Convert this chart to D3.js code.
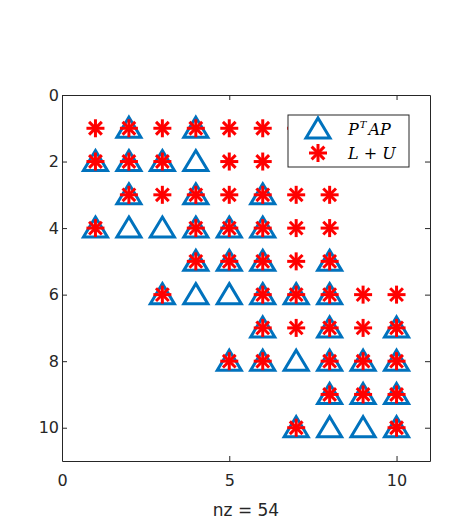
<!DOCTYPE html>
<html><head><meta charset="utf-8">
<script src="https://cdn.jsdelivr.net/npm/d3@7"></script>
<style>body{margin:0;background:#fff}text{font-family:"DejaVu Sans",sans-serif}</style>
</head><body><svg width="474" height="525"></svg>
<script>
// nonzeros per row, [row, cols]
var triRows = [[1,[2,4]],[2,[1,2,3,4]],[3,[2,4,6]],[4,[1,2,3,4,5,6]],[5,[4,5,6,8]],
  [6,[3,4,5,6,7,8]],[7,[6,8,10]],[8,[5,6,7,8,9,10]],[9,[8,9,10]],[10,[7,8,9,10]]];
var starRows = [[1,[1,2,3,4,5,6,7,8,9,10]],[2,[1,2,3,5,6]],[3,[2,3,4,5,6,7,8]],[4,[1,4,5,6,7,8]],
  [5,[4,5,6,7,8]],[6,[3,6,7,8,9,10]],[7,[6,7,8,9,10]],[8,[5,6,8,9,10]],[9,[8,9,10]],[10,[7,10]]];
var xTicks = [0,5,10], yTicks = [0,2,4,6,8,10];
var nz = 54;

function flat(rows){ var out=[]; rows.forEach(r => r[1].forEach(c => out.push({r:r[0], c:c}))); return out; }
var tri = flat(triRows), star = flat(starRows);

var svg = d3.select('svg');
var margin = {top: 95, left: 62, right: 44, bottom: 64};
var x = d3.scaleLinear().domain([0,11]).range([margin.left, 474 - margin.right]);
var y = d3.scaleLinear().domain([0,11]).range([margin.top, 525 - margin.bottom]);

var blue = '#0072BD', red = '#FF0000';
var triPath = 'M0,-11L12,9L-12,9Z';
function starG(g){
  [0,45,90,135].forEach(a => g.append('line').attr('x1',0).attr('y1',-9).attr('x2',0).attr('y2',9)
    .attr('transform','rotate(' + a + ')').attr('stroke',red).attr('stroke-width',3));
}

svg.selectAll('path.tri').data(tri).enter().append('path').attr('class','tri')
  .attr('d', triPath).attr('transform', d => 'translate(' + [x(d.c), y(d.r)] + ')')
  .attr('fill','none').attr('stroke',blue).attr('stroke-width',3);
svg.selectAll('g.star').data(star).enter().append('g').attr('class','star')
  .attr('transform', d => 'translate(' + [x(d.c), y(d.r)] + ')').each(function(){ starG(d3.select(this)); });

// axes
var xA = d3.axisBottom(x).tickValues(xTicks).tickSize(-5).tickSizeOuter(0);
var xT = d3.axisTop(x).tickValues(xTicks).tickSize(-5).tickSizeOuter(0).tickFormat('');
var yA = d3.axisLeft(y).tickValues(yTicks).tickSize(-5).tickSizeOuter(0);
var yR = d3.axisRight(y).tickValues(yTicks).tickSize(-5).tickSizeOuter(0).tickFormat('');
[[xA,'translate(0,' + y(11) + ')'],[xT,'translate(0,' + y(0) + ')'],[yA,'translate(' + x(0) + ',0)'],[yR,'translate(' + x(11) + ',0)']]
  .forEach(p => {
    var g = svg.append('g').attr('transform', p[1]).call(p[0]);
    g.selectAll('path,line').attr('stroke','#262626');
    g.selectAll('text').attr('font-size',16).attr('fill','#262626');
  });
svg.selectAll('.tick text').filter(function(){ return this.parentNode.parentNode.getAttribute('transform').indexOf('translate(0,') === 0; }).attr('dy','1.4em');
svg.append('text').attr('x', x(5.5)).attr('y', 516).attr('text-anchor','middle').attr('font-size',17).attr('fill','#262626').text('nz = ' + nz);

// legend
var lg = svg.append('g').attr('transform','translate(288,115)');
lg.append('rect').attr('width',121).attr('height',52).attr('fill','#fff').attr('stroke','#262626');
lg.append('path').attr('d',triPath).attr('transform','translate(30,14)').attr('fill','none').attr('stroke',blue).attr('stroke-width',3);
starG(lg.append('g').attr('transform','translate(30,38)'));
var t1 = lg.append('text').attr('x',60).attr('y',20).attr('font-size',16).style('font-family','"DejaVu Serif",serif').style('font-style','italic');
t1.append('tspan').text('P');
t1.append('tspan').attr('font-size',10).attr('dy',-7).attr('dx',1).text('T');
t1.append('tspan').attr('dy',7).attr('dx',2).text('AP');
var t2 = lg.append('text').attr('x',60).attr('y',44).attr('font-size',16).style('font-family','"DejaVu Serif",serif');
t2.append('tspan').style('font-style','italic').text('L');
t2.append('tspan').text(' + ');
t2.append('tspan').style('font-style','italic').text('U');
</script></body></html>
